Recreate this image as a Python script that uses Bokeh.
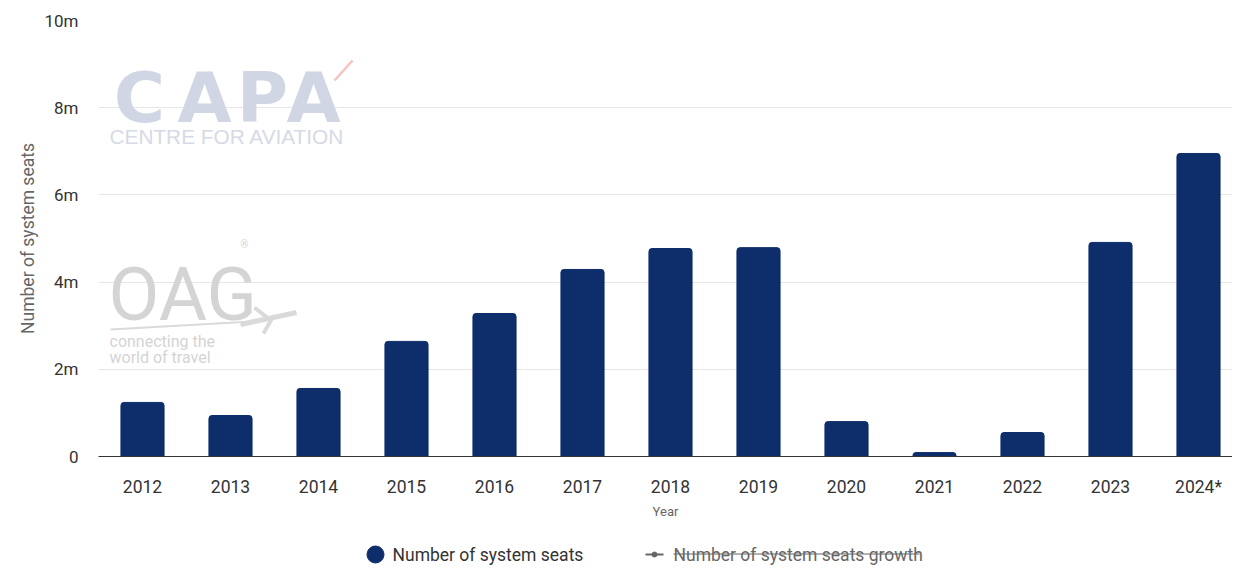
from bokeh.plotting import figure
from bokeh.models import Range1d, FixedTicker, Label, Arrow
from bokeh.layouts import column
from bokeh.embed import file_html
from bokeh.resources import INLINE
from bokeh.core.properties import value

# ---- data ----
years = ["2012", "2013", "2014", "2015", "2016", "2017", "2018",
         "2019", "2020", "2021", "2022", "2023", "2024*"]
seats = [1.24e6, 0.94e6, 1.56e6, 2.64e6, 3.28e6, 4.29e6, 4.77e6,
         4.79e6, 0.80e6, 0.09e6, 0.55e6, 4.91e6, 6.95e6]
y_ticks = [0, 2e6, 4e6, 6e6, 8e6, 10e6]
y_tick_labels = ["0", "2m", "4m", "6m", "8m", "10m"]
series_names = ["Number of system seats", "Number of system seats growth"]

FONT = "Roboto"
NAVY = "#0e2d6b"
W = 1232
TOP = 20
FRAME_H = 436
BOTTOM = 70
MAIN_H = TOP + FRAME_H + BOTTOM
LEG_H = 41
LEFT = 98
STEP = 88.0
FRAME_LEFT_PAGE = 98.0

xs = [i + 0.5 for i in range(len(years))]
x_end = (W - LEFT) / STEP

p = figure(width=W, height=MAIN_H, output_backend="svg", toolbar_location=None,
           x_range=Range1d(0, x_end), y_range=Range1d(0, 10e6),
           min_border_left=LEFT, min_border_right=0, min_border_top=TOP,
           min_border_bottom=BOTTOM)
p.outline_line_color = None
p.background_fill_color = "white"
p.border_fill_color = "white"


def px2x(px):
    return (px - FRAME_LEFT_PAGE) / STEP


def py2y(py, fs=0):
    # baseline correction (~0.3em) observed for alphabetic labels
    return (457 - (py - 0.3 * fs)) / 43.6 * 1e6


# ---- watermarks ----
CAPA_C = "#d1d6e4"
CAPA_FS = 70
for letter, cx in zip("CAPA", [139, 204, 262, 313]):
    p.add_layout(Label(x=px2x(cx), y=py2y(119, CAPA_FS), text=letter, text_font="DejaVu Sans",
                       text_font_style="bold", text_font_size=f"{CAPA_FS}px", text_color=CAPA_C,
                       text_align="center", text_baseline="alphabetic", level="underlay"))
p.add_layout(Label(x=px2x(109), y=py2y(143, 20), text="CENTRE FOR AVIATION", text_font="Liberation Sans",
                   text_font_size="20.8px", text_color="#d6dae6",
                   text_baseline="alphabetic", level="underlay"))
p.add_layout(Arrow(x_start=px2x(334), y_start=py2y(81), x_end=px2x(352), y_end=py2y(61),
                   end=None, line_color="#f6c3bf", line_width=2.5, level="underlay"))

OAG_C = "#d4d4d4"
OAG_FS = 74
p.add_layout(Label(x=px2x(108), y=py2y(317, OAG_FS), text="OAG", text_font=FONT,
                   text_font_size=f"{OAG_FS}px", text_color=OAG_C,
                   text_baseline="alphabetic", level="underlay"))
p.add_layout(Label(x=px2x(240), y=py2y(248, 10), text="®", text_font=FONT,
                   text_font_size="10px", text_color=OAG_C,
                   text_baseline="alphabetic", level="underlay"))
p.add_layout(Arrow(x_start=px2x(110), y_start=py2y(330), x_end=px2x(252), y_end=py2y(322),
                   end=None, line_color="#dadada", line_width=2, level="underlay"))
p.add_layout(Arrow(x_start=px2x(240), y_start=py2y(325), x_end=px2x(296), y_end=py2y(313),
                   end=None, line_color="#dadada", line_width=5, level="underlay"))
p.add_layout(Arrow(x_start=px2x(268), y_start=py2y(319), x_end=px2x(254), y_end=py2y(308),
                   end=None, line_color="#dadada", line_width=4, level="underlay"))
p.add_layout(Arrow(x_start=px2x(272), y_start=py2y(318), x_end=px2x(263), y_end=py2y(334),
                   end=None, line_color="#dadada", line_width=4, level="underlay"))
p.add_layout(Label(x=px2x(109), y=py2y(347, 16), text="connecting the", text_font=FONT,
                   text_font_size="16px", text_color=OAG_C,
                   text_baseline="alphabetic", level="underlay"))
p.add_layout(Label(x=px2x(109), y=py2y(363, 16), text="world of travel", text_font=FONT,
                   text_font_size="16px", text_color=OAG_C,
                   text_baseline="alphabetic", level="underlay"))

# ---- bars ----
p.vbar(x=xs, top=seats, bottom=0, width=0.49, fill_color=NAVY, line_color=NAVY,
       border_radius=(3, 3, 0, 0))

# ---- axes ----
p.xaxis.ticker = FixedTicker(ticks=xs)
p.xaxis.major_label_overrides = {x: y for x, y in zip(xs, years)}
p.xaxis.axis_label = "Year"
p.xaxis.axis_label_text_font = FONT
p.xaxis.axis_label_text_font_size = "13px"
p.xaxis.axis_label_text_font_style = "normal"
p.xaxis.axis_label_text_color = "#666666"
p.xaxis.axis_label_standoff = 4
p.xaxis.major_label_text_font = FONT
p.xaxis.major_label_text_font_size = "17.5px"
p.xaxis.major_label_text_color = "#333333"
p.xaxis.major_label_standoff = 14
p.xaxis.axis_line_color = "#333333"
p.xaxis.axis_line_width = 1
p.xaxis.major_tick_line_color = None
p.xaxis.minor_tick_line_color = None

p.yaxis.ticker = FixedTicker(ticks=y_ticks)
p.yaxis.major_label_overrides = {t: l for t, l in zip(y_ticks, y_tick_labels)}
p.yaxis.axis_label = "Number of system seats"
p.yaxis.axis_label_text_font = FONT
p.yaxis.axis_label_text_font_size = "17.5px"
p.yaxis.axis_label_text_font_style = "normal"
p.yaxis.axis_label_text_color = "#666666"
p.yaxis.axis_label_standoff = 3
p.yaxis.major_label_text_font = FONT
p.yaxis.major_label_text_font_size = "17px"
p.yaxis.major_label_text_color = "#333333"
p.yaxis.major_label_standoff = 14
p.yaxis.axis_line_color = None
p.yaxis.major_tick_line_color = None
p.yaxis.minor_tick_line_color = None

p.xgrid.visible = False
p.ygrid.grid_line_color = "#e6e6e6"
p.ygrid.grid_line_width = 1

# ---- legend strip (frame aligned with main frame) ----
lg = figure(width=W, height=LEG_H, output_backend="svg", toolbar_location=None,
            x_range=Range1d(0, x_end), y_range=Range1d(0, LEG_H),
            x_axis_type=None, y_axis_type=None, min_border=0,
            min_border_left=LEFT)
lg.outline_line_color = None
lg.xgrid.visible = False
lg.ygrid.visible = False
ly = 13

lg.scatter(x=[px2x(375)], y=[ly], size=17, marker="circle", fill_color=NAVY, line_color=NAVY)
lg.text(x=[px2x(392)], y=[ly], text=[series_names[0]], text_font=value(FONT),
        text_font_size="17.5px", text_color="#333333", text_baseline="middle")
lg.segment(x0=[px2x(645)], y0=[ly], x1=[px2x(663)], y1=[ly], line_color="#666666", line_width=2)
lg.scatter(x=[px2x(654)], y=[ly], size=5, marker="circle", fill_color="#666666", line_color="#666666")
lg.text(x=[px2x(673)], y=[ly], text=[series_names[1]], text_font=value(FONT),
        text_font_size="17.5px", text_color="#666666", text_baseline="middle")
lg.segment(x0=[px2x(673)], y0=[ly + 0.5], x1=[px2x(919)], y1=[ly + 0.5],
           line_color="#666666", line_width=1)

layout = column(p, lg, spacing=0)
open("out.html", "w").write(file_html(layout, INLINE))
